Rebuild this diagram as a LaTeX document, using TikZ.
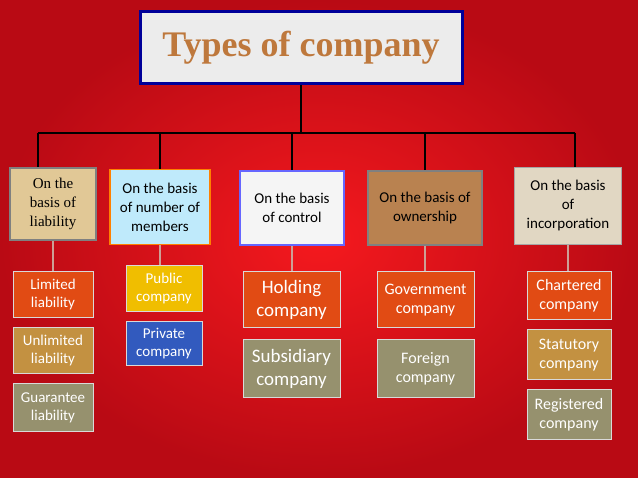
\documentclass[tikz,border=0pt]{standalone}
\usepackage{fontspec}
\setsansfont{Carlito}
\setmainfont{Liberation Serif}
\begin{document}
\begin{tikzpicture}[x=1pt,y=-1pt,
  cat/.style={draw=#1,line width=1.5pt,align=center,inner sep=0pt},
  kid/.style={draw=white!70!gray,line width=1pt,align=center,text=white,inner sep=0pt},
  con/.style={line width=2pt,black},
  gcon/.style={line width=2.5pt,color={rgb,255:red,205;green,160;blue,150}}]
\shade[inner color={rgb,255:red,245;green,25;blue,30},outer color={rgb,255:red,185;green,10;blue,20}] (0,0) rectangle (638,478);
\useasboundingbox (0,0) rectangle (638,478);
% title
\node[draw=blue!60!black,line width=3pt,fill=gray!15,minimum width=322pt,minimum height=72pt,font=\rmfamily\bfseries\fontsize{36}{38}\selectfont,text={rgb,255:red,190;green,120;blue,60}] (t) at (301,48) {Types of company};
% level 1
\node[cat=gray,fill={rgb,255:red,225;green,200;blue,150},minimum width=86pt,minimum height=72pt,font=\rmfamily\fontsize{15}{19}\selectfont] (a) at (53,204) {On the\\basis of\\liability};
\node[cat=orange,fill=cyan!25,minimum width=100pt,minimum height=75pt,font=\sffamily\fontsize{15}{19}\selectfont] (b) at (160,207) {On the basis\\of number of\\members};
\node[cat=blue!60,fill=gray!8,minimum width=104pt,minimum height=74pt,font=\sffamily\fontsize{15}{19}\selectfont] (c) at (292,208) {On the basis\\of control};
\node[cat=gray,fill={rgb,255:red,185;green,130;blue,80},minimum width=114pt,minimum height=74pt,font=\sffamily\fontsize{15}{19}\selectfont] (d) at (425,208) {On the basis of\\ownership};
\node[cat=gray!70,fill={rgb,255:red,225;green,215;blue,195},minimum width=107pt,minimum height=77pt,font=\sffamily\fontsize{15}{19}\selectfont] (e) at (568,206) {On the basis\\of\\incorporation};
% children
\definecolor{ored}{RGB}{225,75,20}
\definecolor{gold}{RGB}{195,145,65}
\definecolor{olive2}{RGB}{150,145,110}
\definecolor{yel}{RGB}{240,190,0}
\definecolor{blu}{RGB}{50,90,190}
\node[kid,fill=ored,minimum width=80pt,minimum height=46pt,font=\sffamily\fontsize{15}{18}\selectfont] (a1) at (53,295) {Limited\\liability};
\node[kid,fill=gold,minimum width=80pt,minimum height=46pt,font=\sffamily\fontsize{15}{18}\selectfont] (a2) at (53,351) {Unlimited\\liability};
\node[kid,fill=olive2,minimum width=80pt,minimum height=48pt,font=\sffamily\fontsize{15}{18}\selectfont] (a3) at (53,408) {Guarantee\\liability};
\node[kid,fill=yel,minimum width=76pt,minimum height=46pt,font=\sffamily\fontsize{15}{18}\selectfont] (b1) at (164,289) {Public\\company};
\node[kid,fill=blu,minimum width=76pt,minimum height=44pt,font=\sffamily\fontsize{15}{18}\selectfont] (b2) at (164,344) {Private\\company};
\node[kid,fill=ored,minimum width=97pt,minimum height=56pt,font=\sffamily\fontsize{19}{23}\selectfont] (c1) at (291.5,300) {Holding\\company};
\node[kid,fill=olive2,minimum width=97pt,minimum height=58pt,font=\sffamily\fontsize{19}{23}\selectfont] (c2) at (291.5,369) {Subsidiary\\company};
\node[kid,fill=ored,minimum width=97pt,minimum height=56pt,font=\sffamily\fontsize{16}{19}\selectfont] (d1) at (425.5,300) {Government\\company};
\node[kid,fill=olive2,minimum width=97pt,minimum height=58pt,font=\sffamily\fontsize{16}{19}\selectfont] (d2) at (425.5,369) {Foreign\\company};
\node[kid,fill=ored,minimum width=84pt,minimum height=48pt,font=\sffamily\fontsize{16}{19}\selectfont] (e1) at (569,296) {Chartered\\company};
\node[kid,fill=gold,minimum width=84pt,minimum height=50pt,font=\sffamily\fontsize{16}{19}\selectfont] (e2) at (569,355) {Statutory\\company};
\node[kid,fill=olive2,minimum width=84pt,minimum height=50pt,font=\sffamily\fontsize{16}{19}\selectfont] (e3) at (569,415) {Registered\\company};
% connectors
\coordinate (h) at (301,133);
\draw[con] (t.south) -- (h);
\draw[con] (38,133) -- (575,133);
\foreach \n/\xx in {a/38,b/160,c/292,d/425,e/575}{\draw[con] (\xx,133) -- (\xx,0 |- \n.north);}
\foreach \p/\q in {a/a1,b/b1,c/c1,d/d1,e/e1}{\draw[gcon] (\p.south) -- (\p.south |- \q.north);}
\end{tikzpicture}
\end{document}
